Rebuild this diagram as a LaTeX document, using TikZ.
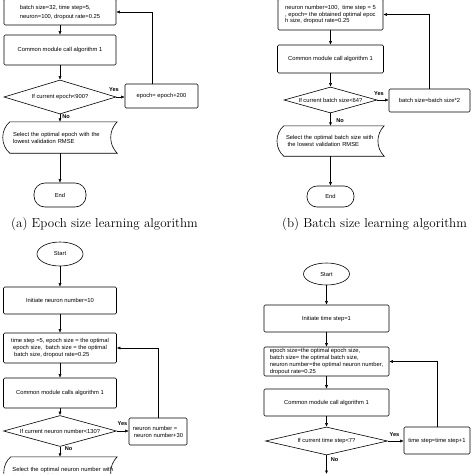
\documentclass[tikz,border=0pt]{standalone}
\usepackage{fontspec}
\newfontfamily\flowfont{Liberation Sans}
\usetikzlibrary{shapes.geometric, arrows.meta, positioning}

\begin{document}
\begin{tikzpicture}[x=1pt, y=-1pt,
        font=\flowfont\fontsize{5.8}{7}\selectfont,
        procbox/.style={draw, rounded corners=1.2pt, line width=0.6pt, align=left, inner sep=1pt},
        decision/.style={draw, diamond, line width=0.6pt, inner sep=0pt, aspect=3},
        terminal/.style={draw, line width=0.6pt, inner sep=0pt},
        tapebox/.style={align=left, inner ysep=1pt},
        tapeline/.style={line width=0.6pt},
        flow/.style={-{Latex[length=3.5pt,width=3pt]}, line width=0.5pt},
        yesno/.style={font=\flowfont\bfseries\fontsize{5.6}{6}\selectfont, inner sep=0pt},
        caption/.style={font=\rmfamily\fontsize{13}{15}\selectfont, inner sep=0pt}]
            \clip (0,0) rectangle (474,474);

            % (a) epoch size
            \node[procbox, minimum width=112pt, minimum height=26pt, font=\flowfont\fontsize{5.8}{9}\selectfont] (a1) at (60,12) {batch size=32, time step=5,\\neuron=100, dropout rate=0.25};
            \node[procbox, minimum width=112pt, minimum height=30pt] (a2) at (60,50) {Common module call algorithm 1};
            \node[decision, minimum width=112pt, minimum height=34pt] (a3) at (60,97) {If current epoch<900?};
            \node[procbox, minimum width=73pt, minimum height=24pt] (a4) at (161.5,96) {epoch= epoch+200};
            \node[tapebox, inner xsep=3pt, text width=101pt, minimum height=31pt] (a5) at (63.5,137.5) {Select the optimal epoch with the\\lowest validation RMSE};
            \node[terminal, rounded corners=11pt, minimum width=52pt, minimum height=24pt] (a6) at (60,195) {End};
            \node[yesno] (ayes) at (114,90) {Yes};
            \node[yesno] (ano) at (66,117) {No};
            \node[caption] (acap) at (104.5,224) {(a) Epoch size learning algorithm};

            \draw[flow] (a1) -- (a2);
            \draw[flow] (a2) -- (a3);
            \draw[flow] (a3.east) -- (a3.east -| a4.west);
            \draw[flow] (a3.south) -- (a3.south |- a5.north);
            \draw[flow] (a6.north |- a5.south) -- (a6.north);
            \draw[flow] ([xshift=-9pt]a4.north) |- (a1.east);
            \draw[tapeline] (a5.north west) -- (a5.north east) to[bend right=45] (a5.south east) -- (a5.south west) to[bend left=50] (a5.north west);

            % (b) batch size
            \node[procbox, minimum width=105pt, minimum height=31pt, font=\flowfont\fontsize{5.8}{6.6}\selectfont] (b1) at (330.5,14.5) {neuron number=100,\ \ time step = 5\\, epoch= the obtained optimal epoc\\h size, dropout rate=0.25};
            \node[procbox, minimum width=106pt, minimum height=28pt] (b2) at (330.5,59) {Common module call algorithm 1};
            \node[decision, minimum width=93pt, minimum height=26pt] (b3) at (330.5,100) {If current batch size<64?};
            \node[procbox, minimum width=81pt, minimum height=23pt] (b4) at (429.5,100.5) {batch size=batch size*2};
            \node[tapebox, inner xsep=2pt, text width=96pt, minimum height=30pt] (b5) at (334,141) {Select the optimal batch size with\\\hspace*{1.5pt}the lowest validation RMSE};
            \node[terminal, rounded corners=10pt, minimum width=47pt, minimum height=21pt] (b6) at (330.5,196.5) {End};
            \node[yesno] (byes) at (379,94) {Yes};
            \node[yesno] (bno) at (340,121) {No};
            \node[caption] (bcap) at (374.5,224) {(b) Batch size learning algorithm};

            \draw[flow] (b1) -- (b2);
            \draw[flow] (b2) -- (b3);
            \draw[flow] (b3.east) -- (b3.east -| b4.west);
            \draw[flow] (b3.south) -- (b3.south |- b5.north);
            \draw[flow] (b6.north |- b5.south) -- (b6.north);
            \draw[flow] (b4.north) |- (b1.east);
            \draw[tapeline] (b5.north west) -- (b5.north east) to[bend right=45] (b5.south east) -- (b5.south west) to[bend left=50] (b5.north west);

            % (c) neuron number
            \node[terminal, ellipse, minimum width=46pt, minimum height=24pt] (c0) at (60,254) {Start};
            \node[procbox, align=center, minimum width=113pt, minimum height=27pt] (c1) at (60,300.5) {Initiate neuron number=10};
            \node[procbox, minimum width=113pt, minimum height=30pt] (c2) at (60,348) {time step =5, epoch size = the optimal\\\hspace*{2pt}epoch size,\ \ batch size = the optimal\\\hspace*{3pt}batch size, dropout rate=0.25};
            \node[procbox, minimum width=113pt, minimum height=30pt] (c3) at (60,393) {Common module calls algorithm 1};
            \node[decision, minimum width=113pt, minimum height=26pt] (c4) at (60,431) {If current neuron number<130?};
            \node[procbox, minimum width=58pt, minimum height=27pt] (c5) at (158,431.5) {neuron number =\\\hspace*{1pt}neuron number+30};
            \node[tapebox, inner xsep=1.5pt, text width=103pt, minimum height=31pt] (c6) at (64,472.5) {Select the optimal neuron number with\\the lowest validation RMSE};
            \node[yesno] (cyes) at (122.5,424) {Yes};
            \node[yesno] (cno) at (68.5,449) {No};

            \draw[flow] (c0) -- (c1);
            \draw[flow] (c1) -- (c2);
            \draw[flow] (c2) -- (c3);
            \draw[flow] (c3) -- (c4);
            \draw[flow] (c4.east) -- (c4.east -| c5.west);
            \draw[flow] (c4.south) -- (c4.south |- c6.north);
            \draw[flow] (c5.north) |- (c2.east);
            \draw[tapeline] (c6.north west) -- (c6.north east) to[bend right=45] (c6.south east) -- (c6.south west) to[bend left=50] (c6.north west);

            % (d) time step
            \node[terminal, ellipse, minimum width=46pt, minimum height=22pt] (d0) at (326.5,274) {Start};
            \node[procbox, align=center, minimum width=125pt, minimum height=27pt] (d1) at (326.5,318.5) {Initiate time step=1};
            \node[procbox, minimum width=125pt, minimum height=29pt, font=\flowfont\fontsize{5.8}{6.7}\selectfont] (d2) at (326.5,361.5) {epoch size=the optimal epoch size,\\batch size= the optimal batch size,\\neuron number=the optimal neuron number,\\dropout rate=0.25};
            \node[procbox, minimum width=125pt, minimum height=27pt] (d3) at (326.5,402.5) {Common module call algorithm 1};
            \node[decision, minimum width=122pt, minimum height=28pt] (d4) at (326.5,441) {If current time step<7?};
            \node[procbox, minimum width=66pt, minimum height=27pt] (d5) at (437,440.5) {time step=time step+1};
            \coordinate (d6) at (326.5,474);
            \node[yesno] (dyes) at (394.5,435) {Yes};
            \node[yesno] (dno) at (334.5,460) {No};

            \draw[flow] (d0) -- (d1);
            \draw[flow] (d1) -- (d2);
            \draw[flow] (d2) -- (d3);
            \draw[flow] (d3) -- (d4);
            \draw[flow] (d4.east) -- (d4.east -| d5.west);
            \draw[flow] (d4.south) -- (d6);
            \draw[flow] (d5.north) |- (d2.east);
        \end{tikzpicture}
\end{document}
